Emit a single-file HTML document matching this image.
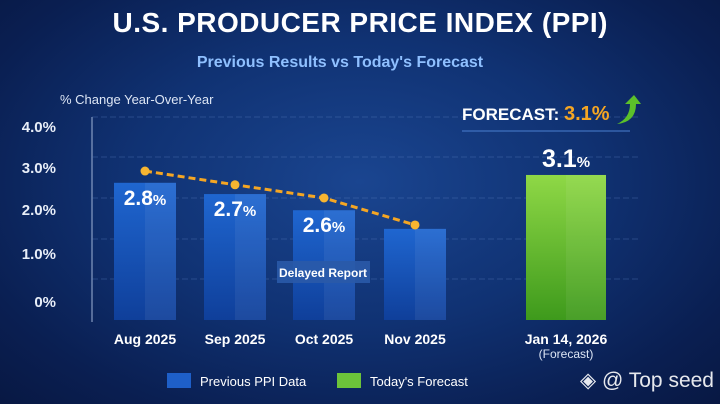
<!DOCTYPE html>
<html><head><meta charset="utf-8"><style>
body{margin:0;width:720px;height:404px;overflow:hidden;font-family:"Liberation Sans",sans-serif;}
#c{position:relative;width:720px;height:404px;background:radial-gradient(ellipse at 50% 45%,#1a4590 0%,#103273 45%,#0a1f52 80%,#081843 100%);}
</style></head><body>
<div id="c">
<svg width="720" height="404" id="svg">
<text x="360" y="32" text-anchor="middle" fill="#fff" font-size="28" font-weight="bold" textLength="495">U.S. PRODUCER PRICE INDEX (PPI)</text>
<text x="340" y="67" text-anchor="middle" fill="#8fc0ff" font-size="16" font-weight="bold">Previous Results vs Today's Forecast</text>
<text x="60" y="104" fill="#dde6f5" font-size="13">% Change Year-Over-Year</text>
<line x1="92" y1="117" x2="92" y2="322" stroke="#9fb3d6" stroke-width="1"/>
<g id="grid"></g><g id="bars"></g><g id="line"></g>
<text x="462" y="120" fill="#fff" font-size="17" font-weight="bold">FORECAST: <tspan fill="#f5a623" font-size="20">3.1%</tspan></text>
<path d="M617 124 Q630 118 630 104 L625 104 L634 95 L641 104 L636 104 Q636 122 617 124Z" fill="#5cc02a"/>
<line x1="462" y1="131" x2="630" y2="131" stroke="#4a7fd0" stroke-width="1"/>
<rect x="277" y="261" width="93" height="22" fill="#2a5aa8" opacity="0.9"/>
<text x="323" y="277" text-anchor="middle" fill="#fff" font-size="12" font-weight="bold">Delayed Report</text>
<rect x="167" y="373" width="24" height="15" fill="#1e5fc8"/>
<text x="200" y="386" fill="#fff" font-size="13">Previous PPI Data</text>
<rect x="337" y="373" width="24" height="15" fill="#6cc43a"/>
<text x="370" y="386" fill="#fff" font-size="13">Today's Forecast</text>
<text x="580" y="387" fill="#fff" font-size="21" opacity="0.9">◈ @ Top seed</text>
</svg></div>
<script>
const categories=["Aug 2025","Sep 2025","Oct 2025","Nov 2025","Jan 14, 2026"];
const barValues=[2.8,2.57,2.24,1.86,2.96];
const barLabels=["2.8","2.7","2.6","","3.1"];
const lineValues=[3.04,2.76,2.49,1.94];
const yTicks=["4.0%","3.0%","2.0%","1.0%","0%"];
const NS="http://www.w3.org/2000/svg";
const base=320,ppu=49;
function y(v){return base-v*ppu;}
const xs=[145,235,324,415,566];
function bw(i){return i===4?80:62;}
function mk(t,a,p){const e=document.createElementNS(NS,t);for(const k in a)e.setAttribute(k,a[k]);p.appendChild(e);return e;}
const svg=document.getElementById('svg');
const defs=mk('defs',{},svg);
defs.innerHTML='<linearGradient id="gb" x1="0" y1="0" x2="0" y2="1"><stop offset="0" stop-color="#1f66d0"/><stop offset="1" stop-color="#0f3f9a"/></linearGradient><linearGradient id="gg" x1="0" y1="0" x2="0" y2="1"><stop offset="0" stop-color="#8fd846"/><stop offset="1" stop-color="#3e9a1c"/></linearGradient>';
const grid=document.getElementById('grid');
const gridY=[117,157,198,239,279],labY=[132,173,215,259,307];
yTicks.forEach((t,i)=>{
 const l=mk('line',{x1:92,x2:640,y1:gridY[i],y2:gridY[i],stroke:'#5a7fbf','stroke-opacity':0.35,'stroke-dasharray':'6 3'},grid);
 
 
 const tx=mk('text',{x:56,y:labY[i],'text-anchor':'end',fill:'#e8eef8','font-size':15,'font-weight':'bold'},grid);
 tx.textContent=t;
 
 
});
const bars=document.getElementById('bars');
categories.forEach((c,i)=>{
 const w=bw(i),top=y(barValues[i]);
 const r=mk('rect',{x:xs[i]-w/2,y:top,width:w,height:base-top,fill:i===4?'url(#gg)':'url(#gb)'},bars);
 
 
 mk('rect',{x:xs[i],y:top,width:w/2,height:base-top,fill:'#fff',opacity:0.06},bars);
 if(barLabels[i]){
  const t=mk('text',{x:xs[i],y:i===4?top-8:top+22,'text-anchor':'middle',fill:'#fff','font-weight':'bold','font-size':i===4?25:21},bars);
  t.innerHTML=barLabels[i]+'<tspan font-size="15">%</tspan>';
  
  
 }
 const lab=mk('text',{x:xs[i],y:344,'text-anchor':'middle',fill:'#fff','font-size':14,'font-weight':'bold'},bars);
 lab.textContent=c;
 
 
});
const sub=mk('text',{x:xs[4],y:358,'text-anchor':'middle',fill:'#dde6f5','font-size':12},bars);
sub.textContent='(Forecast)';


const lg=document.getElementById('line');
const pts=lineValues.map((v,i)=>xs[i]+','+y(v)).join(' ');
const pl=mk('polyline',{points:pts,fill:'none',stroke:'#f5a623','stroke-width':3,'stroke-dasharray':'7 4'},lg);


lineValues.forEach((v,i)=>{
 const d=mk('circle',{cx:xs[i],cy:y(v),r:4.5,fill:'#f7b531'},lg);
 
 
});
</script>
</body></html>
